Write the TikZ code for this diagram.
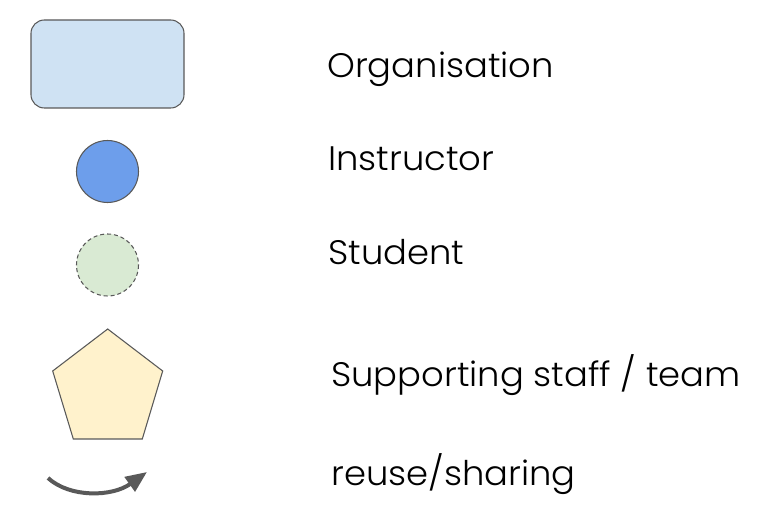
\documentclass[tikz,border=0pt]{standalone}
\usepackage{fontspec}
\setmainfont{Poppins}[UprightFont=* Light,FakeStretch=1.04]
\usetikzlibrary{arrows.meta}
\definecolor{orgfill}{HTML}{CFE2F3}
\definecolor{instfill}{HTML}{6D9EEB}
\definecolor{studfill}{HTML}{D9EAD3}
\definecolor{stafffill}{HTML}{FFF2CC}
\definecolor{edge}{HTML}{595959}
\definecolor{arrowgray}{HTML}{595959}
\begin{document}
\begin{tikzpicture}[x=0.75pt,y=-0.75pt,
  shapeline/.style={draw=edge,line width=0.8pt},
  label/.style={anchor=base west,inner sep=0pt,font=\fontsize{25.5pt}{30pt}\selectfont,text=black},
  reuse/.style={draw=arrowgray,line width=3pt,-{Triangle[length=16pt,width=13pt]}}]
\useasboundingbox (0,0) rectangle (764,516);
% Organisation
\draw[shapeline,fill=orgfill,rounded corners=10pt] (31,20) rectangle (184,108);
% Instructor
\draw[shapeline,fill=instfill] (107.5,171.5) circle[radius=31];
% Student
\draw[shapeline,fill=studfill,dashed,dash pattern=on 3pt off 2.2pt] (107.5,265) circle[radius=31];
% Supporting staff
\draw[shapeline,fill=stafffill] (107.7,329) -- (162.7,371) -- (142.3,439) -- (73.3,439) -- (52.7,371) -- cycle;
% reuse arrow
\coordinate (r1) at (48,478);
\coordinate (r2) at (147,472);
\draw[reuse] (r1) .. controls (70,498) and (112,497) .. (r2);
% labels
\node[label] (torg) at (327,78) {Organisation};
\node[label] (tins) at (328,171) {Instructor};
\node[label] (tstu) at (328,265) {Student};
\node[label] (tsta) at (331,387) {Supporting staff / team};
\node[label] (treu) at (331,485) {reuse/sharing};
\end{tikzpicture}
\end{document}
